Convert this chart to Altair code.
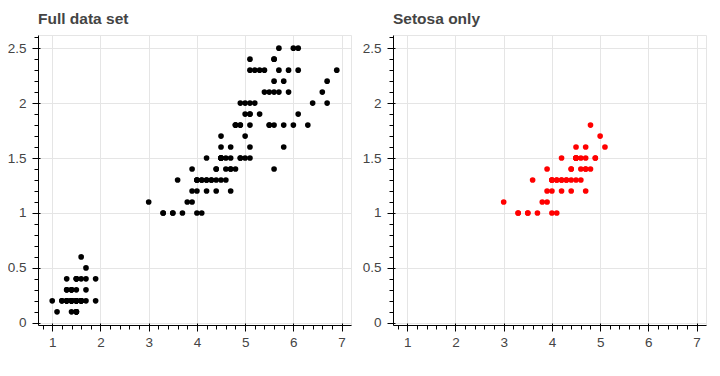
import altair as alt
import pandas as pd

# Iris petal measurements (length, width)
setosa_len = [1.4,1.4,1.3,1.5,1.4,1.7,1.4,1.5,1.4,1.5,1.5,1.6,1.4,1.1,1.2,1.5,1.3,1.4,1.7,1.5,
              1.7,1.5,1.0,1.7,1.9,1.6,1.6,1.5,1.4,1.6,1.6,1.5,1.5,1.4,1.5,1.2,1.3,1.5,1.3,1.5,
              1.3,1.3,1.3,1.6,1.9,1.4,1.6,1.4,1.5,1.4]
setosa_wid = [0.2,0.2,0.2,0.2,0.2,0.4,0.3,0.2,0.2,0.1,0.2,0.2,0.1,0.1,0.2,0.4,0.4,0.3,0.3,0.3,
              0.2,0.4,0.2,0.5,0.2,0.2,0.4,0.2,0.2,0.2,0.2,0.4,0.1,0.2,0.1,0.2,0.2,0.1,0.2,0.2,
              0.3,0.3,0.2,0.6,0.4,0.3,0.2,0.2,0.2,0.2]
versicolor_len = [4.7,4.5,4.9,4.0,4.6,4.5,4.7,3.3,4.6,3.9,3.5,4.2,4.0,4.7,3.6,4.4,4.5,4.1,4.5,3.9,
                  4.8,4.0,4.9,4.7,4.3,4.4,4.8,5.0,4.5,3.5,3.8,3.7,3.9,5.1,4.5,4.5,4.7,4.4,4.1,4.0,
                  4.4,4.6,4.0,3.3,4.2,4.2,4.2,4.3,3.0,4.1]
versicolor_wid = [1.4,1.5,1.5,1.3,1.5,1.3,1.6,1.0,1.3,1.4,1.0,1.5,1.0,1.4,1.3,1.4,1.5,1.0,1.5,1.1,
                  1.8,1.3,1.5,1.2,1.3,1.4,1.4,1.7,1.5,1.0,1.1,1.0,1.2,1.6,1.5,1.6,1.5,1.3,1.3,1.3,
                  1.2,1.4,1.2,1.0,1.3,1.2,1.3,1.3,1.1,1.3]
virginica_len = [6.0,5.1,5.9,5.6,5.8,6.6,4.5,6.3,5.8,6.1,5.1,5.3,5.5,5.0,5.1,5.3,5.5,6.7,6.9,5.0,
                 5.7,4.9,6.7,4.9,5.7,6.0,4.8,4.9,5.6,5.8,6.1,6.4,5.6,5.1,5.6,6.1,5.6,5.5,4.8,5.4,
                 5.6,5.1,5.1,5.9,5.7,5.2,5.0,5.2,5.4,5.1]
virginica_wid = [2.5,1.9,2.1,1.8,2.2,2.1,1.7,1.8,1.8,2.5,2.0,1.9,2.1,2.0,2.4,2.3,1.8,2.2,2.3,1.5,
                 2.3,2.0,2.0,1.8,2.1,1.8,1.8,1.8,2.1,1.6,1.9,2.0,2.2,1.5,1.4,2.3,2.4,1.8,1.8,2.1,
                 2.4,2.3,1.9,2.3,2.5,2.3,1.9,2.0,2.3,1.8]

titles = ["Full data set", "Setosa only"]
x_major = [1, 2, 3, 4, 5, 6, 7]
y_major = [0, 0.5, 1, 1.5, 2, 2.5]
x_minor = [round(0.8 + 0.2 * i, 1) for i in range(32)]
y_minor = [round(0.1 * i, 1) for i in range(27)]
X_DOMAIN = [0.705, 7.195]
Y_DOMAIN = [-0.02, 2.62]

full = pd.DataFrame({
    "length": setosa_len + versicolor_len + virginica_len,
    "width": setosa_wid + versicolor_wid + virginica_wid,
})
sub = pd.DataFrame({"length": versicolor_len, "width": versicolor_wid})

FONT = "Liberation Sans"
W, H = 313, 290


def panel(df, color, title):
    xs = alt.Scale(domain=X_DOMAIN, nice=False, zero=False)
    ys = alt.Scale(domain=Y_DOMAIN, nice=False, zero=False)
    major_common = dict(title=None, grid=True, gridColor="#e5e5e5", domain=False,
                        tickSize=8, offset=-2, tickColor="black", labelColor="#444444",
                        labelFontSize=13.5, labelFont=FONT, labelFlush=False,
                        labelOverlap=False, format="~g")
    minor_common = dict(title=None, grid=False, labels=False, tickSize=4,
                        tickColor="black", domainColor="black", domain=True)
    pts = alt.Chart(df).mark_circle(size=32, opacity=1, color=color).encode(
        x=alt.X("length:Q", scale=xs,
                axis=alt.Axis(values=x_major, orient="bottom", labelPadding=4, **major_common)),
        y=alt.Y("width:Q", scale=ys,
                axis=alt.Axis(values=y_major, orient="left", labelPadding=6, **major_common)),
    )
    minor = alt.Chart(df).mark_circle(opacity=0).encode(
        x=alt.X("length:Q", scale=xs,
                axis=alt.Axis(values=x_minor, orient="bottom", **minor_common)),
        y=alt.Y("width:Q", scale=ys,
                axis=alt.Axis(values=y_minor, orient="left", **minor_common)),
    )
    return alt.layer(minor, pts).resolve_axis(x="independent", y="independent").properties(
        width=W, height=H,
        title=alt.TitleParams(title, anchor="start", frame="group", fontSize=15.5,
                              font=FONT, fontWeight="bold", color="#444444", offset=8),
    )


chart = alt.hconcat(
    panel(full, "black", titles[0]),
    panel(sub, "red", titles[1]),
    spacing=9,
).properties(
    padding={"left": -2, "top": 3, "right": 5, "bottom": 5}
).configure_view(stroke="#e5e5e5")

chart.save("out.html", embed_options={"renderer": "svg", "actions": False})
